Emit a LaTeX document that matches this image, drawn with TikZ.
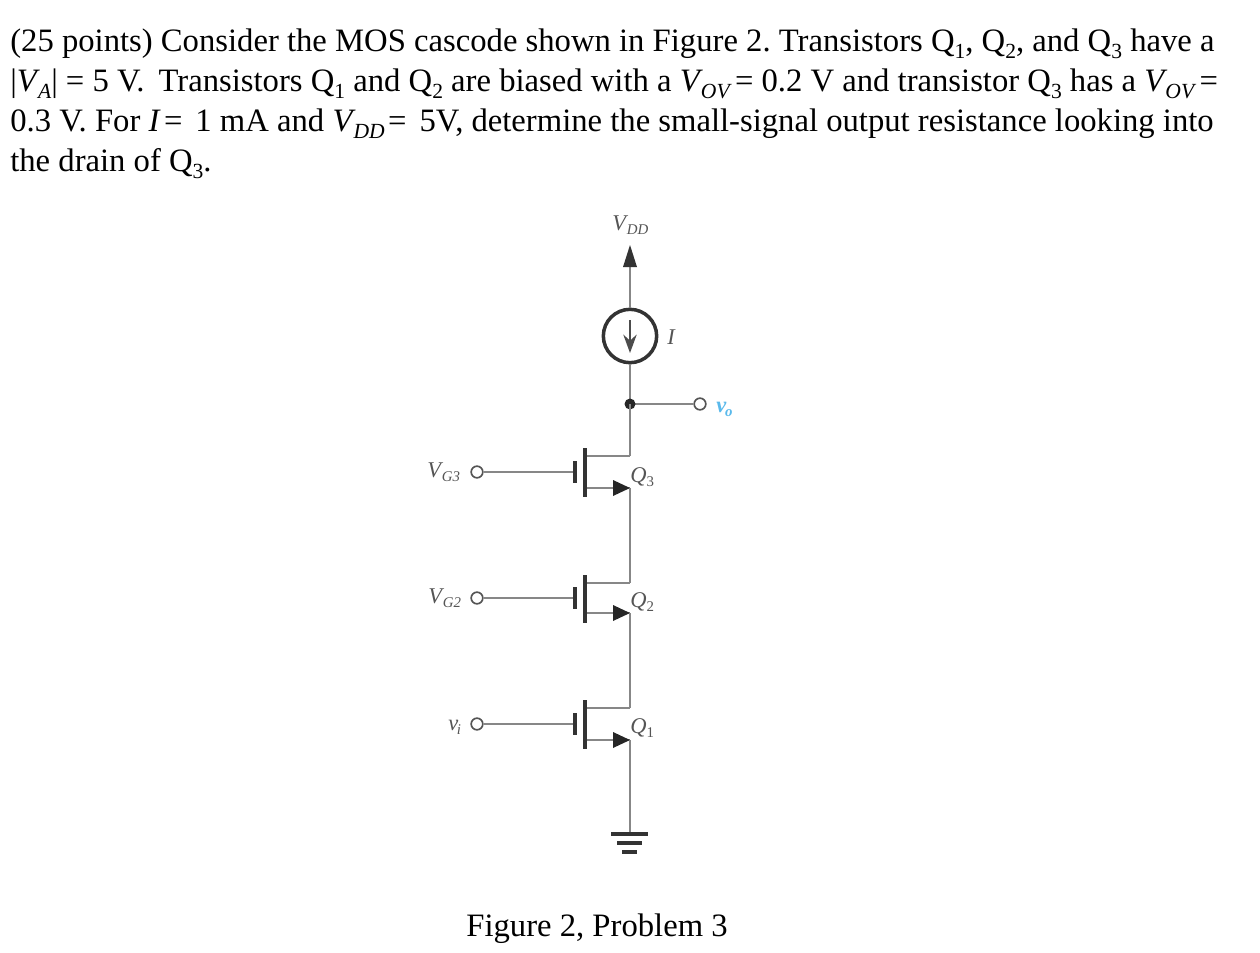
\documentclass[tikz,border=0pt]{standalone}
\usepackage{fontspec}
\usepackage{xcolor}
\setmainfont{Liberation Serif}
\usetikzlibrary{arrows.meta, positioning, calc}
\definecolor{wiregray}{RGB}{135, 135, 135}
\definecolor{labelgray}{RGB}{85, 85, 85}
\definecolor{outblue}{RGB}{90, 185, 235}
\newcommand{\lowsub}[1]{\raisebox{-0.2em}{\scalebox{0.66}{#1}}}
\newcommand{\vsub}[2]{\textit{#1}\kern-0.06em\lowsub{\textit{#2}}}
\newcommand{\qsub}[1]{Q\lowsub{#1}}
\newcommand{\tighteq}{\kern0.1em=\kern0.15em}
\frenchspacing
\tikzset{
	txtline/.style={anchor=base west, inner sep=0pt, font=\fontsize{19.6}{24}\selectfont},
	cktlabel/.style={anchor=base west, inner sep=0pt, text=labelgray, font=\fontsize{13.5}{16}\selectfont},
	terminal/.style={circle, draw=labelgray, fill=white, line width=1pt, inner sep=0pt, minimum size=7pt},
	wire/.style={wiregray, line width=1.5pt},
	plate/.style={black!80, line width=2.2pt},
	isource/.style={circle, draw=black!80, line width=2.1pt, inner sep=0pt, minimum size=32pt}
}
\begin{document}
\begin{tikzpicture}[x=0.6pt, y=-0.6pt]
			\useasboundingbox (0,0) rectangle (1260,952);

			% Problem Statement
			\node[txtline] (line1) at (10,52) {(25 points) Consider the MOS cascode shown in Figure 2. Transistors \qsub{1}, \qsub{2}, and \qsub{3} have a};
			\node[txtline] (line2) at (10,92) {|\vsub{V}{A}| = 5 V.\kern0.18em{} Transistors \qsub{1} and \qsub{2} are biased with a \vsub{V}{OV}\tighteq\kern0.1em 0.2 V and transistor \qsub{3} has a \vsub{V}{OV}\tighteq};
			\node[txtline] (line3) at (10,132) {0.3 V. For \textit{I}\tighteq{} 1 mA and \vsub{V}{DD}\tighteq{} 5V, determine the small-signal output resistance looking into};
			\node[txtline] (line4) at (10,172) {the drain of \qsub{3}.};
			\node[txtline] (caption) at (466,936) {Figure 2, Problem 3};

			% Supply and Current Source
			\coordinate (vdd) at (630,250);
			\node[isource] (src) at (630,336) {};
			\coordinate (outnode) at (630,404);
			\node[terminal] (vo) at (700,404) {};
			\draw[wire] (src) -- (vdd);
			\draw[wire] (src) -- (outnode);
			\draw[wire] (outnode) -- (vo);
			\fill[black!80] (623,267) -- (630,245) -- (637,267) -- cycle;
			\draw[black!70, line width=1.2pt, -{Stealth[length=11pt, width=8pt]}] (src.center) ++(0,-16) -- ++(0,33);
			\fill[black!85] (outnode) circle (5.5);

			\node[cktlabel] (vddlabel) at (612,230) {\vsub{V}{DD}};
			\node[cktlabel] (ilabel) at (667,344) {\textit{I}};
			\node[cktlabel, text=outblue] (volabel) at (716,412) {\textbf{\vsub{v}{o}}};

			% Cascode Stack (drain, gate and source rows)
			\foreach \n/\yd/\yg/\ys/\ytop/\ybot/\ylab in {3/456/472/488/448/497/482, 2/583/598/613/575/623/607, 1/708/724/740/700/749/733} {
				\coordinate (d\n) at (630,\yd);
				\coordinate (s\n) at (630,\ys);
				\coordinate (ct\n) at (585,\ytop);
				\coordinate (cb\n) at (585,\ybot);
				\coordinate (g\n) at (575,\yg);
				\node[terminal] (vg\n) at (477,\yg) {};

				% Draw Bonds of the Transistor
				\draw[wire] (vg\n) -- (g\n);
				\draw[wire] (585,\yd) -- (d\n);
				\draw[wire] (585,\ys) -- (s\n);
				\draw[plate] (ct\n) -- (cb\n);
				\draw[plate] (575,\yg-11) -- (575,\yg+11);
				\fill[black!85] (s\n) -- (613,\ys-8) -- (613,\ys+8) -- cycle;
				\node[cktlabel] (q\n) at (630,\ylab) {\textit{Q}\lowsub{\n}};
			}

			% Gate Labels
			\node[cktlabel] (vg3label) at (427,477) {\vsub{V}{G3}};
			\node[cktlabel] (vg2label) at (428,603) {\vsub{V}{G2}};
			\node[cktlabel] (vilabel) at (448,730) {\vsub{v}{i}};

			% Connect the Stack
			\coordinate (gnd) at (630,834);
			\draw[wire] (outnode) -- (d3);
			\draw[wire] (s3) -- (d2);
			\draw[wire] (s2) -- (d1);
			\draw[wire] (s1) -- (gnd);

			% Ground Symbol
			\draw[plate] (611,834) -- (648,834);
			\draw[plate] (617,843) -- (642,843);
			\draw[plate] (622,852) -- (637,852);

		\end{tikzpicture}
\end{document}
